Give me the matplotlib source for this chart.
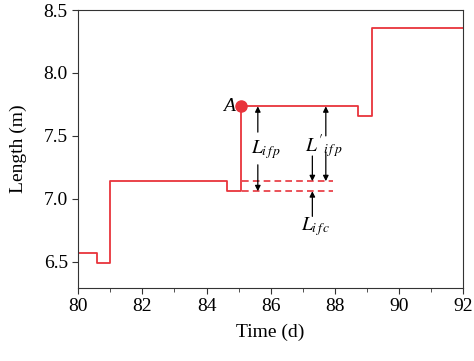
import numpy as np
import matplotlib.pyplot as plt

# step profile of length vs time
edges = [80, 80.58, 81.0, 84.64, 85.08, 88.72, 89.16, 92]
lengths = [6.565, 6.49, 7.14, 7.06, 7.735, 7.66, 8.355]

point_A = (85.08, 7.735)
dash_x = [85.12, 87.95]
dash_levels = [7.14, 7.06]

plt.rcParams['font.family'] = ['Liberation Serif', 'DejaVu Serif']
plt.rcParams['mathtext.fontset'] = 'stix'

red = '#e8343c'

fig = plt.figure(figsize=(4.74, 3.61), dpi=100)
ax = fig.add_axes([0.165, 0.202, 0.812, 0.770])

ax.step(edges, lengths + [lengths[-1]], where='post', color=red, lw=1.3)
ax.plot(*point_A, 'o', color=red, ms=8, zorder=5)
ax.text(point_A[0] - 0.18, point_A[1], 'A', style='italic', fontsize=14,
        ha='right', va='center')

for lev in dash_levels:
    ax.plot(dash_x, [lev, lev], ls=(0, (4, 2.5)), color=red, lw=1.2)

arr = dict(arrowstyle='-|>', color='black', lw=0.9, mutation_scale=8,
           shrinkA=0, shrinkB=0)

# L_ifp
x1 = 85.6
ax.annotate('', xy=(x1, 7.735), xytext=(x1, 7.53), arrowprops=arr)
ax.annotate('', xy=(x1, 7.06), xytext=(x1, 7.27), arrowprops=arr)
ax.text(x1 - 0.2, 7.39, r'$L_{i\,f\,p}$', fontsize=14, ha='left', va='center')

# L'_ifp
x2 = 87.72
ax.annotate('', xy=(x2, 7.735), xytext=(x2, 7.50), arrowprops=arr)
ax.annotate('', xy=(x2, 7.14), xytext=(x2, 7.37), arrowprops=arr)
x3 = 87.3
ax.annotate('', xy=(x3, 7.14), xytext=(x3, 7.34), arrowprops=arr)
ax.text(87.08, 7.42, r"$L'_{i\,f\,p}$", fontsize=14, ha='left', va='center')

# L_ifc
ax.annotate('', xy=(x3, 7.06), xytext=(x3, 6.86), arrowprops=arr)
ax.text(86.95, 6.78, r'$L_{i\,f\,c}$', fontsize=14, ha='left', va='center')

ax.set_xlim(80, 92)
ax.set_ylim(6.29, 8.5)
ax.set_xticks(np.arange(80, 93, 2))
ax.set_xticks(np.arange(81, 92, 2), minor=True)
ax.set_yticks([6.5, 7.0, 7.5, 8.0, 8.5])
ax.tick_params(direction='out', labelsize=14, color='#333333', length=4)
ax.tick_params(which='minor', direction='out', length=3, color='#333333')
for s in ax.spines.values():
    s.set_color('#333333')
ax.set_xlabel('Time (d)', fontsize=14, labelpad=6)
ax.set_ylabel('Length (m)', fontsize=14, labelpad=12)

fig.savefig('out.png', dpi=100)
